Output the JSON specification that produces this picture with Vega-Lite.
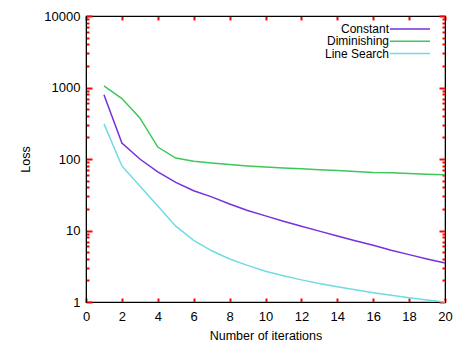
{
  "$schema": "https://vega.github.io/schema/vega-lite/v6.json",
  "width": 359,
  "height": 286,
  "autosize": "none",
  "padding": {"left": 86, "top": 16, "right": 29, "bottom": 54},
  "background": "white",
  "config": {
    "view": {"stroke": "black", "strokeWidth": 1.2},
    "font": "Liberation Sans",
    "axis": {"gridOpacity": 0, "domainColor": "black", "tickColor": "red", "tickWidth": 2}
  },
  "data": {"values": [
    {"x": 1, "loss": 790, "method": "Constant"},
    {"x": 2, "loss": 167, "method": "Constant"},
    {"x": 3, "loss": 100, "method": "Constant"},
    {"x": 4, "loss": 66, "method": "Constant"},
    {"x": 5, "loss": 47, "method": "Constant"},
    {"x": 6, "loss": 36, "method": "Constant"},
    {"x": 7, "loss": 29.5, "method": "Constant"},
    {"x": 8, "loss": 23.5, "method": "Constant"},
    {"x": 9, "loss": 19, "method": "Constant"},
    {"x": 10, "loss": 16, "method": "Constant"},
    {"x": 11, "loss": 13.5, "method": "Constant"},
    {"x": 12, "loss": 11.5, "method": "Constant"},
    {"x": 13, "loss": 9.8, "method": "Constant"},
    {"x": 14, "loss": 8.4, "method": "Constant"},
    {"x": 15, "loss": 7.2, "method": "Constant"},
    {"x": 16, "loss": 6.2, "method": "Constant"},
    {"x": 17, "loss": 5.3, "method": "Constant"},
    {"x": 18, "loss": 4.6, "method": "Constant"},
    {"x": 19, "loss": 4.0, "method": "Constant"},
    {"x": 20, "loss": 3.5, "method": "Constant"},
    {"x": 1, "loss": 1050, "method": "Diminishing"},
    {"x": 2, "loss": 700, "method": "Diminishing"},
    {"x": 3, "loss": 375, "method": "Diminishing"},
    {"x": 4, "loss": 147, "method": "Diminishing"},
    {"x": 5, "loss": 103, "method": "Diminishing"},
    {"x": 6, "loss": 93, "method": "Diminishing"},
    {"x": 7, "loss": 88, "method": "Diminishing"},
    {"x": 8, "loss": 84, "method": "Diminishing"},
    {"x": 9, "loss": 80, "method": "Diminishing"},
    {"x": 10, "loss": 77, "method": "Diminishing"},
    {"x": 11, "loss": 75, "method": "Diminishing"},
    {"x": 12, "loss": 73, "method": "Diminishing"},
    {"x": 13, "loss": 71, "method": "Diminishing"},
    {"x": 14, "loss": 69, "method": "Diminishing"},
    {"x": 15, "loss": 67, "method": "Diminishing"},
    {"x": 16, "loss": 65, "method": "Diminishing"},
    {"x": 17, "loss": 64, "method": "Diminishing"},
    {"x": 18, "loss": 62.5, "method": "Diminishing"},
    {"x": 19, "loss": 61, "method": "Diminishing"},
    {"x": 20, "loss": 60, "method": "Diminishing"},
    {"x": 1, "loss": 310, "method": "Line Search"},
    {"x": 2, "loss": 80, "method": "Line Search"},
    {"x": 3, "loss": 42, "method": "Line Search"},
    {"x": 4, "loss": 22, "method": "Line Search"},
    {"x": 5, "loss": 11.5, "method": "Line Search"},
    {"x": 6, "loss": 7.3, "method": "Line Search"},
    {"x": 7, "loss": 5.2, "method": "Line Search"},
    {"x": 8, "loss": 4.0, "method": "Line Search"},
    {"x": 9, "loss": 3.25, "method": "Line Search"},
    {"x": 10, "loss": 2.7, "method": "Line Search"},
    {"x": 11, "loss": 2.33, "method": "Line Search"},
    {"x": 12, "loss": 2.04, "method": "Line Search"},
    {"x": 13, "loss": 1.82, "method": "Line Search"},
    {"x": 14, "loss": 1.64, "method": "Line Search"},
    {"x": 15, "loss": 1.48, "method": "Line Search"},
    {"x": 16, "loss": 1.35, "method": "Line Search"},
    {"x": 17, "loss": 1.24, "method": "Line Search"},
    {"x": 18, "loss": 1.15, "method": "Line Search"},
    {"x": 19, "loss": 1.07, "method": "Line Search"},
    {"x": 20, "loss": 1.0, "method": "Line Search"}
  ]},
  "layer": [
    {
      "mark": {"type": "line", "strokeWidth": 1.5},
      "encoding": {
        "x": {"field": "x", "type": "quantitative", "scale": {"domain": [0, 20], "nice": false, "zero": false},
          "axis": {"orient": "bottom", "title": "Number of iterations", "values": [0,2,4,6,8,10,12,14,16,18,20], "tickSize": -4, "labelPadding": 12, "labelColor": "black", "labelFont": "Liberation Sans", "labelFontSize": 13, "titleFont": "Liberation Sans", "titleFontWeight": "normal", "titleColor": "black", "titleFontSize": 12.5, "titlePadding": 6, "labelFlush": false}},
        "y": {"field": "loss", "type": "quantitative", "scale": {"type": "log", "domain": [1, 10000], "nice": false},
          "axis": {"orient": "left", "title": "Loss", "values": [1,10,100,1000,10000], "format": "d", "tickSize": -6, "labelPadding": 12, "labelColor": "black", "labelFont": "Liberation Sans", "labelFontSize": 13, "titleFont": "Liberation Sans", "titleFontWeight": "normal", "titleColor": "black", "titleFontSize": 12.5, "titlePadding": 11}},
        "color": {"field": "method", "type": "nominal",
          "scale": {"domain": ["Constant", "Diminishing", "Line Search"], "range": ["#7630dc", "#3ec75a", "#6fdbe3"]},
          "legend": {"orient": "none", "legendX": 304, "legendY": 7, "title": null, "symbolType": "M-4,0H4", "symbolSize": 100, "symbolStrokeWidth": 1.5, "symbolOffset": 14, "labelAlign": "right", "labelOffset": -27, "labelFontSize": 12, "labelFont": "Liberation Sans", "labelColor": "black", "rowPadding": 0.3, "padding": 0}}
      }
    },
    {
      "mark": {"type": "line", "opacity": 0},
      "encoding": {
        "x": {"field": "x", "type": "quantitative", "axis": {"orient": "top", "title": null, "labels": false, "values": [0,2,4,6,8,10,12,14,16,18,20], "tickSize": -4}},
        "y": {"field": "loss", "type": "quantitative", "scale": {"type": "log"}, "axis": {"orient": "right", "title": null, "labels": false, "values": [1,10,100,1000,10000], "tickSize": -6}},
        "detail": {"field": "method"}
      }
    },
    {
      "mark": {"type": "line", "opacity": 0},
      "encoding": {
        "x": {"field": "x", "type": "quantitative", "axis": null},
        "y": {"field": "loss", "type": "quantitative", "scale": {"type": "log"}, "axis": {"orient": "left", "title": null, "labels": false, "values": [2,3,4,5,6,7,8,9,20,30,40,50,60,70,80,90,200,300,400,500,600,700,800,900,2000,3000,4000,5000,6000,7000,8000,9000], "tickSize": -3}},
        "detail": {"field": "method"}
      }
    },
    {
      "mark": {"type": "line", "opacity": 0},
      "encoding": {
        "x": {"field": "x", "type": "quantitative", "axis": null},
        "y": {"field": "loss", "type": "quantitative", "scale": {"type": "log"}, "axis": {"orient": "right", "title": null, "labels": false, "values": [2,3,4,5,6,7,8,9,20,30,40,50,60,70,80,90,200,300,400,500,600,700,800,900,2000,3000,4000,5000,6000,7000,8000,9000], "tickSize": -3}},
        "detail": {"field": "method"}
      }
    }
  ],
  "resolve": {"axis": {"x": "independent", "y": "independent"}}
}
